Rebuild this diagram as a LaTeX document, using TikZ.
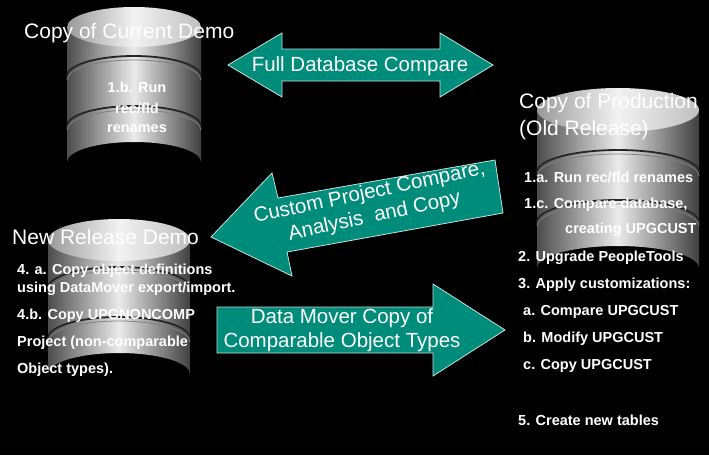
\documentclass[tikz,border=0pt]{standalone}
\usepackage{fontspec}
\setmainfont{Liberation Sans}
\definecolor{tealA}{RGB}{0,140,122}
\begin{document}
\begin{tikzpicture}[x=1pt,y=-1pt,
  title/.style={text=white,font=\fontsize{21}{24}\selectfont,anchor=west,inner sep=0},
  item/.style={text=white,font=\bfseries\fontsize{14.5}{17}\selectfont,anchor=west,inner sep=0},
  arr/.style={fill=tealA,draw=white!75!tealA,line width=0.8pt},
  alabel/.style={text=white,font=\fontsize{20.5}{24}\selectfont,align=center,inner sep=0},
  body/.style={left color=black!70,right color=black!75,middle color=black!8},
  dbtop/.style={left color=black!40,right color=black!25,middle color=black!5},
  gap/.style={draw=black!85,line width=1.8pt}]
\useasboundingbox[fill=black] (0,0) rectangle (709,455);
% cylinder: x1,x2,ytop,ybot,ry,band1,band2
\newcommand\mydb[7]{%
  \pgfmathsetmacro\rx{(#2-#1)/2}%
  \path[body] (#1,#3) -- (#1,#4) arc(180:0:\rx pt and #5pt) -- (#2,#3) -- cycle;
  \draw[gap] (#1,#6) arc(180:0:\rx pt and #5pt);
  \draw[black!50,line width=0.8pt] (#1,#6+4) arc(180:0:\rx pt and #5pt);
  \draw[gap] (#1,#7) arc(180:0:\rx pt and #5pt);
  \draw[black!50,line width=0.8pt] (#1,#7+4) arc(180:0:\rx pt and #5pt);
  \path[dbtop] (#1/2+#2/2,#3) ellipse (\rx pt and #5pt);
}
\mydb{67}{201}{27}{162}{20}{76}{126}
\mydb{48}{190}{240}{374}{21}{288}{338}
\mydb{537}{699}{110}{268}{22}{172}{222}
% top double arrow
\path[arr] (228,65) -- (282,33) -- (282,49) -- (440,49) -- (440,33) -- (493,65)
  -- (440,97) -- (440,81) -- (282,81) -- (282,97) -- cycle;
\node[alabel] (full) at (360,66) {Full Database Compare};
% custom arrow
\path[arr] (211,237) -- (272,173) -- (278,198) -- (495,160) -- (503,213)
  -- (287,252) -- (292,276) -- cycle;
\node[alabel,rotate=12] (cust) at (372,205) {Custom Project Compare,\\Analysis\ \ and Copy};
% bottom arrow
\path[arr] (217,307) -- (433,307) -- (433,284) -- (505,330) -- (433,376)
  -- (433,353) -- (217,353) -- cycle;
\node[alabel] (dm) at (342,330) {Data Mover Copy of\\Comparable Object Types};
% titles
\node[title] (t1) at (24,33) {Copy of Current Demo};
\node[title] (t2) at (12,237) {New Release Demo};
\node[title] (t3) at (519,103) {Copy of Production};
\node[title] (t4) at (519,130) {(Old Release)};
% top-left text
\node[item,anchor=center] (a1) at (137,87) {1.b. Run};
\node[item,anchor=center] (a2) at (137,108) {rec/fld};
\node[item,anchor=center] (a3) at (137,129) {renames};
% bottom-left text
\node[item] (b1) at (17,271) {4. a. Copy object definitions};
\node[item] (b2) at (17,289) {using DataMover export/import.};
\node[item] (b3) at (17,316) {4.b. Copy UPGNONCOMP};
\node[item] (b4) at (17,343) {Project (non-comparable};
\node[item] (b5) at (17,370) {Object types).};
% right text
\node[item] (c1) at (524,177) {1.a. Run rec/fld renames};
\node[item] (c2) at (524,205) {1.c. Compare database,};
\node[item] (c3) at (565,230) {creating UPGCUST};
\node[item] (c4) at (518,258) {2. Upgrade PeopleTools};
\node[item] (c5) at (518,285) {3. Apply customizations:};
\node[item] (c6) at (523,312) {a. Compare UPGCUST};
\node[item] (c7) at (523,339) {b. Modify UPGCUST};
\node[item] (c8) at (523,366) {c. Copy UPGCUST};
\node[item] (c9) at (518,420) {5. Create new tables};
\end{tikzpicture}
\end{document}
